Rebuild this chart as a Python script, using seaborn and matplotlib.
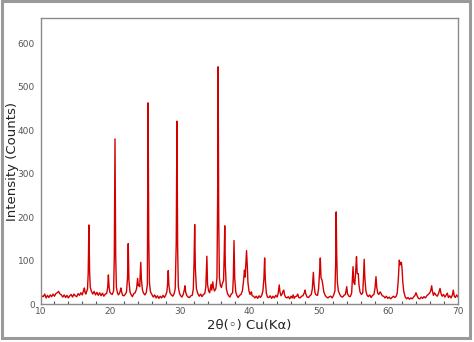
import matplotlib
matplotlib.use("Agg")
import matplotlib.pyplot as plt
import seaborn as sns
import numpy as np
import pandas as pd
from matplotlib.patches import Rectangle

# ---- data (2theta in degrees, intensity in counts) ----
theta_10_20 = [10.0, 10.2, 10.4, 10.6, 10.8, 11.0, 11.2, 11.4, 11.6, 11.8, 12.0, 12.2, 12.4,
               12.6, 12.8, 13.0, 13.2, 13.4, 13.6, 13.8, 14.0, 14.2, 14.4, 14.6, 14.8, 15.0,
               15.2, 15.4, 15.6, 15.8, 16.0, 16.1, 16.2, 16.3, 16.4, 16.5, 16.6, 16.75, 16.85,
               16.95, 17.05, 17.15, 17.3, 17.5, 17.7, 17.9, 18.1, 18.3, 18.5, 18.7, 18.9, 19.1,
               19.3, 19.5, 19.65, 19.75, 19.85, 19.95]
counts_10_20 = [24, 18, 17, 23, 14, 20, 15, 21, 17, 23, 18, 24, 26,
                29, 23, 21, 16, 21, 15, 20, 14, 19, 22, 16, 23, 19,
                17, 24, 20, 26, 21, 27, 31, 37, 27, 23, 28, 34, 70,
                182, 75, 38, 30, 23, 29, 21, 27, 20, 26, 19, 25, 18,
                23, 24, 38, 67, 40, 28]

theta_20_30 = [20.1, 20.3, 20.5, 20.6, 20.7, 20.8, 20.9, 21.05, 21.2, 21.35, 21.45, 21.55,
               21.65, 21.8, 22.0, 22.2, 22.35, 22.5, 22.6, 22.7, 22.85, 23.0, 23.2, 23.4, 23.6,
               23.8, 23.95, 24.05, 24.15, 24.25, 24.4, 24.5, 24.65, 24.8, 25.0, 25.2, 25.35,
               25.45, 25.55, 25.65, 25.8, 26.0, 26.2, 26.4, 26.6, 26.8, 27.0, 27.2, 27.4, 27.6,
               27.8, 28.0, 28.15, 28.25, 28.35, 28.45, 28.6, 28.8, 29.0, 29.2, 29.35, 29.5,
               29.6, 29.7, 29.8, 29.95]
counts_20_30 = [24, 22, 30, 110, 380, 110, 38, 26, 21, 25, 30, 37,
                28, 20, 19, 23, 28, 60, 139, 55, 28, 22, 17, 24, 26,
                35, 59, 42, 45, 40, 96, 55, 32, 25, 21, 27, 45,
                463, 150, 48, 28, 22, 16, 21, 14, 19, 13, 18, 14, 20,
                15, 21, 28, 45, 77, 42, 26, 21, 18, 24, 35, 140,
                421, 130, 40, 26]

theta_30_40 = [30.1, 30.3, 30.5, 30.65, 30.75, 30.85, 31.0, 31.2, 31.4, 31.6, 31.8, 31.95,
               32.05, 32.15, 32.25, 32.4, 32.6, 32.8, 33.0, 33.2, 33.4, 33.6, 33.75, 33.9, 34.0,
               34.15, 34.3, 34.4, 34.5, 34.6, 34.75, 34.85, 35.0, 35.2, 35.35, 35.45, 35.52,
               35.6, 35.7, 35.85, 36.0, 36.1, 36.2, 36.3, 36.4, 36.47, 36.55, 36.7, 36.85, 37.0,
               37.2, 37.4, 37.6, 37.7, 37.8, 37.9, 38.05, 38.2, 38.4, 38.6, 38.8, 39.0, 39.15,
               39.3, 39.4, 39.5, 39.6, 39.7, 39.8, 39.95]
counts_30_40 = [20, 16, 22, 32, 42, 28, 20, 16, 15, 19, 20, 35,
                90, 183, 80, 35, 24, 18, 23, 17, 22, 24, 40, 110, 45,
                30, 26, 36, 45, 32, 51, 38, 30, 36, 60, 250, 546,
                200, 60, 42, 38, 46, 50, 55, 120, 180, 90, 35, 25, 20,
                16, 23, 26, 60, 146, 60, 28, 20, 15, 20, 22, 30, 50,
                78, 62, 95, 123, 90, 50, 30]

theta_40_50 = [40.1, 40.25, 40.3, 40.4, 40.6, 40.8, 41.0, 41.2, 41.4, 41.6, 41.8, 41.95, 42.1,
               42.2, 42.3, 42.45, 42.6, 42.8, 43.0, 43.2, 43.4, 43.6, 43.8, 44.0, 44.15, 44.3,
               44.4, 44.55, 44.7, 44.85, 44.95, 45.05, 45.2, 45.4, 45.6, 45.8, 46.0, 46.15,
               46.3, 46.45, 46.6, 46.8, 46.95, 47.1, 47.3, 47.5, 47.7, 47.9, 48.0, 48.1, 48.3,
               48.5, 48.7, 48.9, 49.05, 49.2, 49.3, 49.45, 49.6, 49.8, 49.95]
counts_40_50 = [22, 26, 28, 19, 18, 14, 18, 13, 19, 15, 21, 30, 60,
                106, 55, 25, 16, 15, 19, 13, 18, 14, 20, 16, 25, 44,
                28, 19, 23, 30, 32, 22, 16, 14, 17, 12, 18, 14,
                21, 13, 17, 18, 23, 15, 14, 18, 19, 26, 32, 24, 16,
                15, 19, 22, 35, 73, 45, 25, 21, 20, 35]

theta_50_60 = [50.1, 50.2, 50.3, 50.45, 50.55, 50.7, 50.9, 51.1, 51.3, 51.5, 51.7, 51.9, 52.1,
               52.3, 52.4, 52.48, 52.55, 52.65, 52.8, 53.0, 53.2, 53.4, 53.6, 53.8, 54.0, 54.1,
               54.3, 54.5, 54.7, 54.8, 54.9, 55.0, 55.15, 55.3, 55.4, 55.5, 55.65, 55.75, 55.9,
               56.1, 56.3, 56.4, 56.5, 56.6, 56.75, 56.9, 57.1, 57.3, 57.5, 57.7, 57.9, 58.05,
               58.2, 58.3, 58.45, 58.6, 58.8, 58.95, 59.1, 59.3, 59.5, 59.7, 59.9]
counts_50_60 = [75, 106, 60, 55, 45, 28, 20, 16, 14, 17, 18, 14, 20,
                30, 90, 212, 120, 50, 30, 22, 17, 16, 20, 22, 40, 24,
                18, 17, 25, 55, 86, 50, 45, 80, 109, 70, 70, 45, 28,
                22, 26, 60, 103, 60, 30, 21, 17, 21, 15, 20, 22, 35,
                63, 40, 25, 22, 28, 24, 19, 18, 14, 18, 13]

theta_60_70 = [60.1, 60.3, 60.5, 60.7, 60.9, 61.1, 61.25, 61.4, 61.55, 61.65, 61.75, 61.85,
               61.95, 62.05, 62.2, 62.4, 62.6, 62.8, 63.0, 63.2, 63.4, 63.6, 63.8, 63.95, 64.1,
               64.3, 64.5, 64.7, 64.9, 65.1, 65.3, 65.5, 65.7, 65.9, 66.05, 66.2, 66.3, 66.45,
               66.6, 66.8, 67.0, 67.2, 67.4, 67.55, 67.7, 67.9, 68.1, 68.3, 68.45, 68.6, 68.8,
               69.0, 69.2, 69.3, 69.45, 69.6, 69.8, 70.0]
counts_60_70 = [16, 12, 15, 18, 15, 18, 25, 55, 101, 90, 95, 96,
                80, 50, 28, 16, 12, 15, 11, 14, 12, 16, 20, 26, 19,
                13, 12, 16, 13, 17, 14, 19, 22, 25, 30, 42, 30, 20,
                26, 21, 18, 25, 36, 24, 18, 22, 16, 21, 25, 15, 19,
                14, 22, 32, 18, 15, 21, 16]

x_ticks = [10, 20, 30, 40, 50, 60, 70]
y_ticks = [0, 100, 200, 300, 400, 500, 600]

df = pd.DataFrame({
    "theta": theta_10_20 + theta_20_30 + theta_30_40 + theta_40_50 + theta_50_60 + theta_60_70,
    "counts": counts_10_20 + counts_20_30 + counts_30_40 + counts_40_50 + counts_50_60 + counts_60_70,
})

sns.set_style("white")
plt.rcParams["font.family"] = ["DejaVu Sans"]

fig = plt.figure(figsize=(4.74, 3.42), dpi=100)
fig.patch.set_facecolor("white")
# outer panel frame
fig.patches.append(Rectangle((0.004, 0.012), 0.988, 0.984, transform=fig.transFigure,
                             fill=False, edgecolor="#9a9a9a", linewidth=2.2, zorder=0))

ax = fig.add_axes([0.0855, 0.111, 0.881, 0.836])
sns.lineplot(data=df, x="theta", y="counts", ax=ax, color="#d40000",
             linewidth=1.0, sort=False, estimator=None)

ax.set_xlim(10, 70)
ax.set_ylim(0, 658)
ax.set_xticks(x_ticks)
ax.set_xticklabels([str(v) for v in x_ticks])
ax.set_xticks(np.arange(10, 71, 2), minor=True)
ax.set_yticks(y_ticks)
ax.set_yticklabels([str(v) for v in y_ticks])

for s in ax.spines.values():
    s.set_color("#8a8a8a")
    s.set_linewidth(1.0)

ax.tick_params(axis="y", which="major", direction="out", length=3, width=0.8,
               color="#8a8a8a", labelsize=6.5, labelcolor="#555555", pad=1)
ax.tick_params(axis="x", which="major", direction="in", length=3, width=0.8,
               color="#555555", labelsize=6.5, labelcolor="#555555", pad=2)
ax.tick_params(axis="x", which="minor", direction="in", length=2.5, width=0.8,
               color="#555555", bottom=True)

ax.set_xlabel("2θ(◦) Cu(Kα)", fontsize=9.5, color="#222222", labelpad=2)
ax.set_ylabel("Intensity (Counts)", fontsize=9.5, color="#222222")
ax.yaxis.set_label_coords(-0.052, 0.5)

fig.savefig("out.png", dpi=100, facecolor="white")
